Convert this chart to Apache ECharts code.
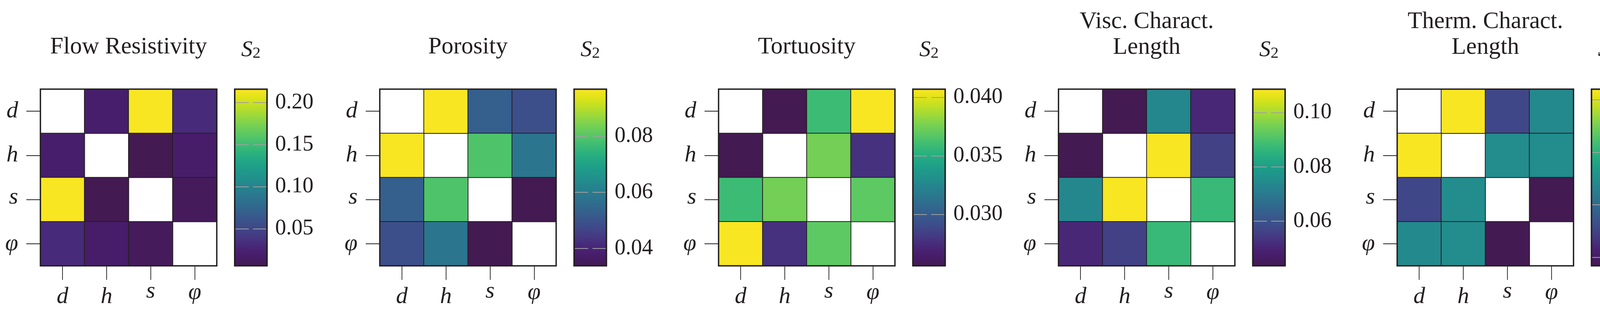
<!DOCTYPE html>
<html><head><meta charset="utf-8">
<script src="https://cdn.jsdelivr.net/npm/echarts@6/dist/echarts.min.js"></script>
<style>html,body{margin:0;padding:0;background:#fff;overflow:hidden}#c{width:4299px;height:805px}</style>
</head><body><div id="c"></div><script>
// ---------- data ----------
const params = ['d', 'h', 's', 'φ'];
const titles = ['Flow Resistivity', 'Porosity', 'Tortuosity', 'Visc. Charact.\nLength', 'Therm. Charact.\nLength'];
const colorbarLabel = 'S2';
const flowResistivity = [
  [null, 0.019, 0.216, 0.031],
  [0.019, null, 0.006, 0.018],
  [0.216, 0.006, null, 0.011],
  [0.031, 0.018, 0.011, null]
];
const porosity = [
  [null, 0.0968, 0.0527, 0.0489],
  [0.0968, null, 0.0792, 0.0584],
  [0.0527, 0.0792, null, 0.0338],
  [0.0489, 0.0584, 0.0338, null]
];
const tortuosity = [
  [null, 0.0256, 0.0359, 0.0407],
  [0.0256, null, 0.0375, 0.0277],
  [0.0359, 0.0375, null, 0.0369],
  [0.0407, 0.0277, 0.0369, null]
];
const viscCharactLength = [
  [null, 0.0436, 0.0735, 0.0508],
  [0.0436, null, 0.1086, 0.0560],
  [0.0735, 0.1086, null, 0.0872],
  [0.0508, 0.0560, 0.0872, null]
];
const thermCharactLength = [
  [null, 0.0840, 0.0309, 0.0484],
  [0.0840, null, 0.0491, 0.0491],
  [0.0309, 0.0491, null, 0.0168],
  [0.0484, 0.0491, 0.0168, null]
];
const colorbarMin = [0.006, 0.0338, 0.0256, 0.0436, 0.0168];
const colorbarMax = [0.216, 0.0968, 0.0407, 0.1086, 0.0840];
const colorbarTicks = [
  [0.05, 0.10, 0.15, 0.20],
  [0.04, 0.06, 0.08],
  [0.030, 0.035, 0.040],
  [0.06, 0.08, 0.10],
  [0.02, 0.04, 0.06, 0.08]
];
const tickDecimals = [2, 2, 3, 2, 2];
const viridis = ['#431a51', '#471c68', '#482475', '#463480', '#414487', '#3b528b', '#355f8d',
  '#2f6c8e', '#2a788e', '#25848e', '#21918c', '#1e9c89', '#22a884', '#2fb47c', '#44bf70',
  '#5ec962', '#7ad151', '#9bd93c', '#bddf26', '#dfe318', '#f9e622'];

// ---------- layout ----------
const panels = [flowResistivity, porosity, tortuosity, viscCharactLength, thermCharactLength];
const panelLeft = [101.7, 970.5, 1837.8, 2708, 3575];
const TOP = 228.6, HEIGHT = 452.8;
const FONT = 'Liberation Serif';
const INK = '#231f20';

const grids = [], xAxes = [], yAxes = [], series = [], visualMaps = [], titleList = [];

const gradient = {
  type: 'linear', x: 0, y: 0, x2: 0, y2: 1,
  colorStops: viridis.map((c, i) => ({ offset: 1 - i / (viridis.length - 1), color: c })).reverse()
};

function xLabel(v) {
  const k = v === 's' ? 'xs' : (v === 'φ' ? 'xp' : 'xn');
  return '{' + k + '|' + v + '}';
}
function yLabel(v) {
  const k = v === 's' ? 'ys' : 'yn';
  return '{' + k + '|' + v + '}';
}
const lbl = { fontFamily: FONT, fontStyle: 'italic', fontWeight: 'normal', fontSize: 60, color: INK };

panels.forEach((m, p) => {
  const L = panelLeft[p];
  const hx = L + 1.75, hw = 451.5;
  const cbOuter = L + 497.3;
  const cx = cbOuter + 1.9, cw = 82.7;

  // heatmap grid
  const gH = grids.length;
  grids.push({ left: hx, top: TOP, width: hw, height: HEIGHT, show: true,
    backgroundColor: 'rgba(0,0,0,0)', borderColor: INK, borderWidth: 3.5, z: 10,
    containLabel: false });
  const xi = xAxes.length, yi = yAxes.length;
  xAxes.push({ gridIndex: gH, type: 'category', data: params, position: 'bottom',
    axisLine: { show: false }, splitLine: { show: false },
    axisTick: { show: true, alignWithLabel: true, length: 36, lineStyle: { color: INK, width: 1.8 } },
    axisLabel: { margin: 49.5, formatter: xLabel, interval: 0, fontFamily: FONT, fontStyle: 'italic', fontSize: 60, color: INK,
      rich: { xn: Object.assign({ lineHeight: 60 }, lbl), xs: Object.assign({ lineHeight: 32 }, lbl), xp: Object.assign({ lineHeight: 38 }, lbl) } } });
  yAxes.push({ gridIndex: gH, type: 'category', data: params, inverse: true,
    axisLine: { show: false }, splitLine: { show: false },
    axisTick: { show: true, alignWithLabel: true, length: 36, lineStyle: { color: INK, width: 1.8 } },
    axisLabel: { margin: 57, formatter: yLabel, interval: 0, fontFamily: FONT, fontStyle: 'italic', fontSize: 60, color: INK,
      rich: { yn: Object.assign({ lineHeight: 60 }, lbl), ys: Object.assign({ lineHeight: 60, padding: [0, 0, 10, 0] }, lbl) } } });
  const data = [];
  m.forEach((row, r) => row.forEach((v, c) => { if (v !== null) data.push([c, r, v]); }));
  series.push({ type: 'heatmap', xAxisIndex: xi, yAxisIndex: yi, data,
    itemStyle: { borderColor: INK, borderWidth: 2 }, emphasis: { disabled: true }, progressive: 0 });
  visualMaps.push({ type: 'continuous', show: false, seriesIndex: p, dimension: 2,
    min: colorbarMin[p], max: colorbarMax[p], inRange: { color: viridis } });

  // colorbar grid
  const gC = grids.length;
  grids.push({ left: cx, top: TOP, width: cw, height: HEIGHT, show: true,
    backgroundColor: gradient, borderWidth: 0, z: 0, containLabel: false });
  xAxes.push({ gridIndex: gC, type: 'value', show: false, min: 0, max: 1 });
  yAxes.push({ gridIndex: gC, type: 'value', position: 'right', min: colorbarMin[p], max: colorbarMax[p], z: 3,
    axisLine: { show: false },
    axisTick: { show: false, customValues: colorbarTicks[p] },
    axisLabel: { show: true, customValues: colorbarTicks[p], margin: 21,
      formatter: v => Number(v).toFixed(tickDecimals[p]),
      fontFamily: FONT, fontStyle: 'normal', fontWeight: 'normal', fontSize: 56, color: INK },
    splitLine: { show: true, lineStyle: { color: '#a0a0a0', width: 2, type: [36, 11] } } });
  // colorbar frame
  const gB = grids.length;
  grids.push({ left: cx, top: TOP, width: cw, height: HEIGHT, show: true,
    backgroundColor: 'rgba(0,0,0,0)', borderColor: INK, borderWidth: 3.8, z: 10,
    containLabel: false });
  xAxes.push({ gridIndex: gB, type: 'value', show: false, min: 0, max: 1 });
  yAxes.push({ gridIndex: gB, type: 'value', show: false, min: 0, max: 1 });

  // titles
  const twoLine = titles[p].indexOf('\n') >= 0;
  titleList.push({ text: titles[p], left: L + 227.5, top: twoLine ? 88.75 : 121.4,
    textAlign: 'center', textVerticalAlign: 'middle', padding: 0,
    textStyle: { fontFamily: FONT, fontSize: 61, fontWeight: 'normal', fontStyle: 'normal', color: INK, lineHeight: 66 } });
  titleList.push({ text: '{s|' + colorbarLabel[0] + '}{sub|' + colorbarLabel.slice(1) + '}',
    left: cbOuter + 43.25, top: 99.4, textAlign: 'center', textVerticalAlign: 'top', padding: 0,
    textStyle: { fontFamily: FONT, fontWeight: 'normal', fontSize: 58, color: INK, rich: {
      s: { fontFamily: FONT, fontStyle: 'italic', fontWeight: 'normal', fontSize: 58, lineHeight: 58, verticalAlign: 'top', color: INK },
      sub: { fontFamily: FONT, fontStyle: 'normal', fontWeight: 'normal', fontSize: 41, lineHeight: 29, verticalAlign: 'bottom', color: INK } } } });
});

const chart = echarts.init(document.getElementById('c'), null, { renderer: 'canvas' });
chart.setOption({
  animation: false,
  backgroundColor: '#ffffff',
  textStyle: { fontFamily: FONT },
  title: titleList,
  grid: grids,
  xAxis: xAxes,
  yAxis: yAxes,
  visualMap: visualMaps,
  series: series
});
</script></body></html>
